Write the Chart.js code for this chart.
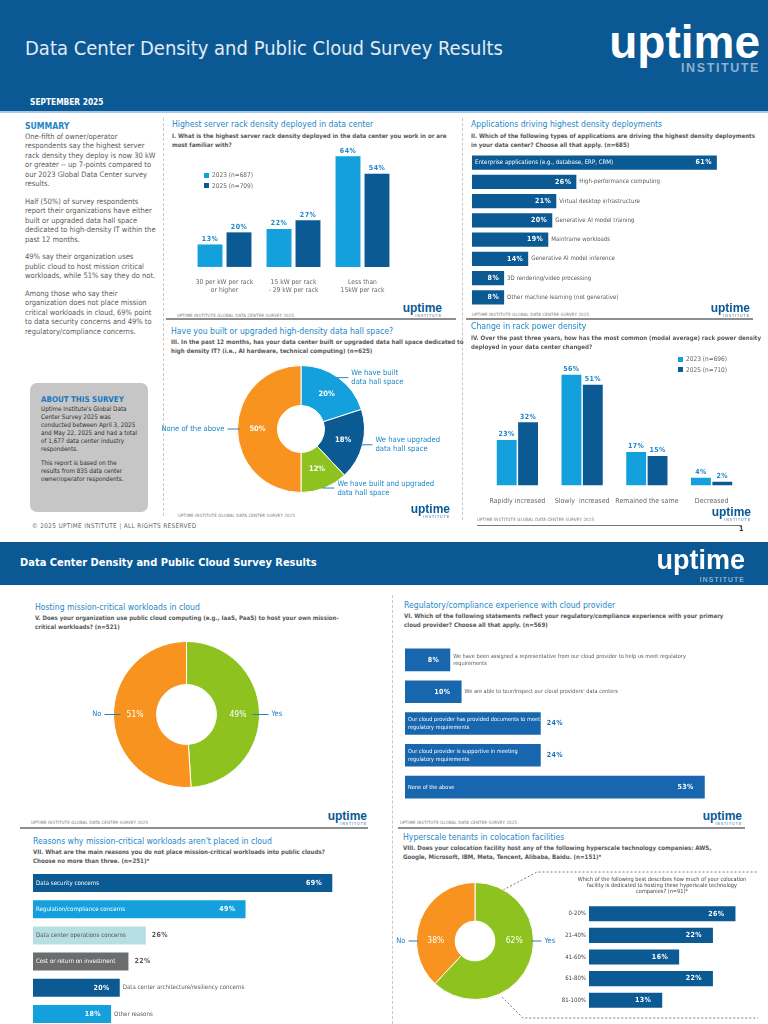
<!DOCTYPE html>
<html>
<head>
<meta charset="utf-8">
<title>Data Center Density and Public Cloud Survey Results</title>
<script src="https://cdn.jsdelivr.net/npm/chart.js"></script>
<style>
    body { margin: 0; background: #fff; }
    #page {
        position: relative; width: 768px; height: 1024px; overflow: hidden;
        font-family: "Liberation Sans Narrow", "Arial Narrow", "DejaVu Sans Condensed", sans-serif;
        color: #555;
    }
    .a { position: absolute; white-space: nowrap; }
    .band { left: 0; width: 768px; background: #0b5994; }
    .ttl { font-size: 8.6px; line-height: 11px; color: #1d87c8; }
    .q { font-size: 6.1px; line-height: 9px; font-weight: bold; color: #585858; }
    .foot { font-size: 4.4px; letter-spacing: 0.15px; color: #777; }
    .slogo { font-family: "Liberation Sans", Arial, sans-serif; font-weight: bold; font-size: 12px; line-height: 12px; color: #0b5994; }
    .sinst { font-family: "Liberation Sans", Arial, sans-serif; font-weight: bold; font-size: 3.6px; letter-spacing: 0.9px; color: #7c9fc4; }
    .vdiv { width: 0; border-left: 1px dashed #c8c8c8; }
    .hdiv { height: 0; border-top: 2px solid #8e8e8e; }
    .legend { font-size: 6.5px; color: #666; }
    .legend span { display: inline-block; width: 5px; height: 5px; margin-right: 3px; vertical-align: -0.5px; }
    .legend div { height: 10.5px; line-height: 10.5px; }
    #summary { left: 25px; top: 121px; font-size: 7.5px; line-height: 9.5px; color: #5a5a5a; }
    #summary h3 { margin: 0 0 0.5px; font-size: 8.6px; line-height: 10px; color: #1d87c8; }
    #summary p { margin: 0 0 8px; }
    #about { left: 30px; top: 383px; width: 107px; height: 118px; padding: 11px 0 0 11px;
             background: #c6c6c6; border-radius: 7px; }
    #about h3 { margin: 0; font-size: 7.9px; line-height: 11px; color: #1577c0; }
    #about p { margin: 0 0 7px; font-size: 6.3px; line-height: 7.9px; color: #2e2e2e; }
</style>
</head>
<body>
<div id="page">
    <!-- page 1 header -->
    <div class="a band" style="top:0;height:111px;border-bottom:2px solid #a9c8e4"></div>
    <div class="a" style="left:25px;top:35px;font-size:20px;line-height:26px;color:#e3eaf2">Data Center Density and Public Cloud Survey Results</div>
    <div class="a" style="right:8px;top:19px;font-family:'Liberation Sans',Arial,sans-serif;font-weight:bold;font-size:46px;line-height:46px;color:#fff">uptime</div>
    <div class="a" style="right:8px;top:62px;font-family:'Liberation Sans',Arial,sans-serif;font-weight:bold;font-size:12.5px;line-height:13px;letter-spacing:1.6px;color:#8db0d2">INSTITUTE</div>
    <div class="a" style="left:30px;top:96px;font-size:8.3px;line-height:12px;font-weight:bold;color:#fff">SEPTEMBER 2025</div>

    <!-- left column -->
    <div id="summary" class="a">
        <h3>SUMMARY</h3>
        <p>One-fifth of owner/operator<br>respondents say the highest server<br>rack density they deploy is now 30 kW<br>or greater -- up 7-points compared to<br>our 2023 Global Data Center survey<br>results.</p>
        <p>Half (50%) of survey respondents<br>report their organizations have either<br>built or upgraded data hall space<br>dedicated to high-density IT within the<br>past 12 months.</p>
        <p>49% say their organization uses<br>public cloud to host mission critical<br>workloads, while 51% say they do not.</p>
        <p>Among those who say their<br>organization does not place mission<br>critical workloads in cloud, 69% point<br>to data security concerns and 49% to<br>regulatory/compliance concerns.</p>
    </div>
    <div id="about" class="a">
        <h3>ABOUT THIS SURVEY</h3>
        <p>Uptime Institute's Global Data<br>Center Survey 2025 was<br>conducted between April 3, 2025<br>and May 22, 2025 and had a total<br>of 1,677 data center industry<br>respondents.</p>
        <p>This report is based on the<br>results from 835 data center<br>owner/operator respondents.</p>
    </div>
    <div class="a" style="left:32px;top:522px;font-size:6.4px;letter-spacing:0.35px;color:#666">© 2025 UPTIME INSTITUTE | ALL RIGHTS RESERVED</div>
    <div class="a" style="left:739px;top:525px;font-size:7px;font-weight:bold;color:#333">1</div>

    <!-- page 1 dividers -->
    <div class="a vdiv" style="left:163px;top:118px;height:398px"></div>
    <div class="a vdiv" style="left:462px;top:118px;height:402px"></div>
    <div class="a hdiv" style="left:166px;top:318px;width:290px"></div>
    <div class="a hdiv" style="left:466px;top:318px;width:287px"></div>
    <div class="a" style="left:477px;top:525px;width:265px;border-top:1px solid #777"></div>

    <!-- I -->
    <div class="a ttl" style="left:172px;top:118.5px">Highest server rack density deployed in data center</div>
    <div class="a q" style="left:172px;top:130.5px">I. What is the highest server rack density deployed in the data center you work in or are<br>most familiar with?</div>
    <canvas id="rackChart" class="a" width="207" height="151" style="left:190px;top:146px"></canvas>
    <div id="rackLegend" class="a legend" style="left:204px;top:170px"></div>
    <div class="a foot" style="left:177px;top:312.5px">UPTIME INSTITUTE GLOBAL DATA CENTER SURVEY 2025</div>
    <div class="a slogo" style="right:326px;top:302px">uptime</div>
    <div class="a sinst" style="right:326px;top:313.5px">INSTITUTE</div>

    <!-- II -->
    <div class="a ttl" style="left:471px;top:118.5px">Applications driving highest density deployments</div>
    <div class="a q" style="left:471px;top:130.5px">II. Which of the following types of applications are driving the highest density deployments<br>in your data center? Choose all that apply. (n=685)</div>
    <canvas id="appChart" class="a" width="285" height="154" style="left:472px;top:153px"></canvas>
    <div class="a foot" style="left:472px;top:311.5px">UPTIME INSTITUTE GLOBAL DATA CENTER SURVEY 2025</div>
    <div class="a slogo" style="right:18px;top:302px">uptime</div>
    <div class="a sinst" style="right:18px;top:313.5px">INSTITUTE</div>

    <!-- III -->
    <div class="a ttl" style="left:171px;top:325.5px">Have you built or upgraded high-density data hall space?</div>
    <div class="a q" style="left:171px;top:336.5px">III. In the past 12 months, has your data center built or upgraded data hall space dedicated to<br>high density IT? (i.e., AI hardware, technical computing) (n=625)</div>
    <canvas id="hallChart" class="a" width="305" height="150" style="left:160px;top:355px"></canvas>
    <div class="a foot" style="left:178px;top:512.5px">UPTIME INSTITUTE GLOBAL DATA CENTER SURVEY 2025</div>
    <div class="a slogo" style="right:318px;top:503px">uptime</div>
    <div class="a sinst" style="right:318px;top:514.5px">INSTITUTE</div>

    <!-- IV -->
    <div class="a ttl" style="left:471px;top:320.5px">Change in rack power density</div>
    <div class="a q" style="left:471px;top:332.5px">IV. Over the past three years, how has the most common (modal average) rack power density<br>deployed in your data center changed?</div>
    <canvas id="changeChart" class="a" width="259" height="145" style="left:485px;top:363px"></canvas>
    <div id="changeLegend" class="a legend" style="left:678px;top:354px"></div>
    <div class="a foot" style="left:477px;top:516.5px">UPTIME INSTITUTE GLOBAL DATA CENTER SURVEY 2025</div>
    <div class="a slogo" style="right:17px;top:506px">uptime</div>
    <div class="a sinst" style="right:17px;top:517.5px">INSTITUTE</div>

    <!-- page 2 header -->
    <div class="a band" style="top:542px;height:43px"></div>
    <div class="a" style="left:20px;top:555px;font-size:11px;line-height:15px;font-weight:bold;color:#fff">Data Center Density and Public Cloud Survey Results</div>
    <div class="a" style="right:23px;top:547px;font-family:'Liberation Sans',Arial,sans-serif;font-weight:bold;font-size:27px;line-height:27px;color:#fff">uptime</div>
    <div class="a" style="right:23px;top:576px;font-family:'Liberation Sans',Arial,sans-serif;font-weight:bold;font-size:7px;line-height:7px;letter-spacing:1px;color:#8db0d2">INSTITUTE</div>

    <!-- page 2 dividers -->
    <div class="a vdiv" style="left:392px;top:595px;height:429px"></div>
    <div class="a hdiv" style="left:20px;top:827px;width:348px"></div>
    <div class="a hdiv" style="left:398px;top:827px;width:347px"></div>

    <!-- V -->
    <div class="a ttl" style="left:35px;top:601.5px">Hosting mission-critical workloads in cloud</div>
    <div class="a q" style="left:35px;top:612.5px">V. Does your organization use public cloud computing (e.g., IaaS, PaaS) to host your own mission-<br>critical workloads? (n=521)</div>
    <canvas id="cloudChart" class="a" width="300" height="170" style="left:40px;top:630px"></canvas>
    <div class="a foot" style="left:31px;top:819.5px">UPTIME INSTITUTE GLOBAL DATA CENTER SURVEY 2025</div>
    <div class="a slogo" style="right:401px;top:810px">uptime</div>
    <div class="a sinst" style="right:401px;top:821.5px">INSTITUTE</div>

    <!-- VI -->
    <div class="a ttl" style="left:404px;top:599.5px">Regulatory/compliance experience with cloud provider</div>
    <div class="a q" style="left:404px;top:610.5px">VI. Which of the following statements reflect your regulatory/compliance experience with your primary<br>cloud provider? Choose all that apply. (n=569)</div>
    <canvas id="regChart" class="a" width="345" height="159" style="left:405px;top:644px"></canvas>
    <div class="a foot" style="left:400px;top:819.5px">UPTIME INSTITUTE GLOBAL DATA CENTER SURVEY 2025</div>
    <div class="a slogo" style="right:26px;top:810px">uptime</div>
    <div class="a sinst" style="right:26px;top:821.5px">INSTITUTE</div>

    <!-- VII -->
    <div class="a ttl" style="left:33px;top:835.5px">Reasons why mission-critical workloads aren't placed in cloud</div>
    <div class="a q" style="left:33px;top:846.5px">VII. What are the main reasons you do not place mission-critical workloads into public clouds?<br>Choose no more than three. (n=251)*</div>
    <canvas id="reasonChart" class="a" width="347" height="157" style="left:33px;top:870px"></canvas>

    <!-- VIII -->
    <div class="a ttl" style="left:403px;top:831.5px">Hyperscale tenants in colocation facilities</div>
    <div class="a q" style="left:403px;top:842.5px">VIII. Does your colocation facility host any of the following hyperscale technology companies: AWS,<br>Google, Microsoft, IBM, Meta, Tencent, Alibaba, Baidu. (n=151)*</div>
    <svg class="a" style="left:0;top:0" width="768" height="1024">
        <polyline points="503,890 537,872 758,872" fill="none" stroke="#777" stroke-width="1" stroke-dasharray="2,2"/>
        <polyline points="502,997 523,1018 758,1018" fill="none" stroke="#777" stroke-width="1" stroke-dasharray="2,2"/>
    </svg>
    <div class="a" style="left:562px;top:876px;width:200px;text-align:center;font-size:5.6px;line-height:6.2px;color:#444">Which of the following best describes how much of your colocation<br>facility is dedicated to hosting these hyperscale technology<br>companies? (n=91)*</div>
    <canvas id="hyperChart" class="a" width="175" height="140" style="left:385px;top:872px"></canvas>
    <canvas id="shareChart" class="a" width="214" height="108" style="left:544px;top:903px"></canvas>
</div>

<script>
    // ---- data ----
    // I. highest rack density
    var rackCats = [['30 per kW per rack', 'or higher'], ['15 kW per rack', '- 29 kW per rack'], ['Less than', '15kW per rack']];
    var rackSeries = ['2023 (n=687)', '2025 (n=709)'];
    var rack2023 = [13, 22, 64];
    var rack2025 = [20, 27, 54];

    // II. applications
    var appCats = ['Enterprise applications (e.g., database, ERP, CRM)', 'High-performance computing',
        'Virtual desktop infrastructure', 'Generative AI model training', 'Mainframe workloads',
        'Generative AI model inference', '3D rendering/video processing', 'Other machine learning (not generative)'];
    var appValues = [61, 26, 21, 20, 19, 14, 8, 8];

    // III. data hall space
    var hallCats = [['We have built', 'data hall space'], ['We have upgraded', 'data hall space'],
        ['We have built and upgraded', 'data hall space'], ['None of the above']];
    var hallValues = [20, 18, 12, 50];

    // IV. rack power density change
    var changeCats = ['Rapidly increased', 'Slowly  increased', 'Remained the same', 'Decreased'];
    var changeSeries = ['2023 (n=696)', '2025 (n=710)'];
    var change2023 = [23, 56, 17, 4];
    var change2025 = [32, 51, 15, 2];

    // V. mission-critical in cloud
    var cloudCats = ['Yes', 'No'];
    var cloudValues = [49, 51];

    // VI. regulatory experience
    var regCats = [
        ['We have been assigned a representative from our cloud provider to help us meet regulatory', 'requirements'],
        "We are able to tour/inspect our cloud providers' data centers",
        ['Our cloud provider has provided documents to meet', 'regulatory requirements'],
        ['Our cloud provider is supportive in meeting', 'regulatory requirements'],
        'None of the above'];
    var regValues = [8, 10, 24, 24, 53];

    // VII. reasons not in cloud
    var reasonCats = ['Data security concerns', 'Regulation/compliance concerns', 'Data center operations concerns',
        'Cost or return on investment', 'Data center architecture/resiliency concerns', 'Other reasons'];
    var reasonValues = [69, 49, 26, 22, 20, 18];

    // VIII. hyperscale tenants
    var hyperCats = ['Yes', 'No'];
    var hyperValues = [62, 38];
    var shareCats = ['0-20%', '21-40%', '41-60%', '61-80%', '81-100%'];
    var shareValues = [26, 22, 16, 22, 13];

    // ---- styling ----
    var FONT = '"Liberation Sans Narrow", "Arial Narrow", "DejaVu Sans Condensed", sans-serif';
    var LIGHT = '#13a0dc', DARK = '#0b5a94', MID = '#1766ae', GREEN = '#8dc21f', ORANGE = '#f7931e';
    var TEAL = '#b6dfe3', GREY = '#6b6c6e';
    var TXT_BLUE = '#1d87c8', TXT_GREY = '#5a5a5a';

    Chart.defaults.font.family = FONT;
    Chart.defaults.animation = false;
    Chart.defaults.responsive = false;
    Chart.defaults.plugins.legend.display = false;
    Chart.defaults.plugins.tooltip.enabled = false;

    function isLight(hex) {
        var n = parseInt(hex.slice(1), 16);
        var r = n >> 16, g = (n >> 8) & 255, b = n & 255;
        return (0.299 * r + 0.587 * g + 0.114 * b) / 255 > 0.7;
    }

    // multi-line text centred vertically on y
    function drawLines(ctx, lines, x, y, lh) {
        lines = Array.isArray(lines) ? lines : [lines];
        var top = y - (lines.length - 1) * lh / 2;
        lines.forEach(function (line, k) { ctx.fillText(line, x, top + k * lh); });
    }

    // value labels above grouped columns
    var columnValues = {
        id: 'columnValues',
        afterDatasetsDraw: function (chart) {
            var ctx = chart.ctx;
            ctx.save();
            ctx.font = 'bold 7px ' + FONT;
            ctx.letterSpacing = '0.4px';
            ctx.fillStyle = TXT_BLUE;
            ctx.textAlign = 'center';
            ctx.textBaseline = 'bottom';
            chart.data.datasets.forEach(function (ds, di) {
                chart.getDatasetMeta(di).data.forEach(function (bar, i) {
                    ctx.fillText(ds.data[i] + '%', bar.x, bar.y - 2);
                });
            });
            ctx.restore();
        }
    };

    // labels and values for horizontal bars
    // modes: 'in' label inside + value inside, 'out' value inside + label after bar,
    //        'in-out' label inside + value after bar, 'axis' label left of axis + value inside
    var rowText = {
        id: 'rowText',
        afterDatasetsDraw: function (chart, args, opts) {
            var ctx = chart.ctx;
            var ds = chart.data.datasets[0];
            ctx.save();
            ctx.textBaseline = 'middle';
            chart.getDatasetMeta(0).data.forEach(function (bar, i) {
                var mode = opts.modes[i];
                var label = chart.data.labels[i];
                var value = ds.data[i] + '%';
                var fill = Array.isArray(ds.backgroundColor) ? ds.backgroundColor[i] : ds.backgroundColor;
                var inner = isLight(fill) ? '#555' : '#fff';

                ctx.letterSpacing = '0px';
                ctx.font = opts.size + 'px ' + FONT;
                if (mode === 'in' || mode === 'in-out') {
                    ctx.fillStyle = inner;
                    ctx.textAlign = 'left';
                    drawLines(ctx, label, bar.base + 3, bar.y, opts.lineHeight);
                } else if (mode === 'out') {
                    ctx.fillStyle = TXT_GREY;
                    ctx.textAlign = 'left';
                    drawLines(ctx, label, bar.x + 3, bar.y, opts.lineHeight);
                } else {
                    ctx.fillStyle = '#444';
                    ctx.textAlign = 'right';
                    drawLines(ctx, label, bar.base - 3, bar.y, opts.lineHeight);
                }

                ctx.font = 'bold ' + opts.valueSize + 'px ' + FONT;
                ctx.letterSpacing = '0.4px';
                if (mode === 'in-out') {
                    ctx.fillStyle = opts.valueColor;
                    ctx.textAlign = 'left';
                    ctx.fillText(value, bar.x + 6, bar.y);
                } else {
                    ctx.fillStyle = inner;
                    ctx.textAlign = 'right';
                    ctx.fillText(value, bar.x - opts.inset, bar.y);
                }
            });
            ctx.restore();
        }
    };

    // slice values and leader-line labels for doughnuts
    var ringText = {
        id: 'ringText',
        afterDatasetsDraw: function (chart, args, opts) {
            var ctx = chart.ctx;
            var ds = chart.data.datasets[0];
            ctx.save();
            ctx.textBaseline = 'middle';
            chart.getDatasetMeta(0).data.forEach(function (arc, i) {
                var p = arc.getProps(['x', 'y', 'startAngle', 'endAngle', 'innerRadius', 'outerRadius'], true);
                var mid = (p.startAngle + p.endAngle) / 2;
                var midR = (p.innerRadius + p.outerRadius) / 2;
                var dir = Math.cos(mid) >= 0 ? 1 : -1;
                var vx, vy, ax, ay;
                if (opts.side) {
                    vx = p.x + dir * midR; vy = p.y;
                    ax = p.x + dir * p.outerRadius; ay = p.y;
                } else {
                    vx = p.x + Math.cos(mid) * midR; vy = p.y + Math.sin(mid) * midR;
                    ax = p.x + Math.cos(mid) * p.outerRadius; ay = p.y + Math.sin(mid) * p.outerRadius;
                }
                ctx.font = opts.valueWeight + ' ' + opts.valueSize + 'px ' + FONT;
                ctx.fillStyle = '#fff';
                ctx.textAlign = 'center';
                ctx.fillText(ds.data[i] + '%', vx, vy);

                ctx.strokeStyle = opts.color;
                ctx.lineWidth = 1;
                ctx.beginPath();
                ctx.moveTo(ax - dir * opts.lineIn, ay);
                ctx.lineTo(ax + dir * opts.lineOut, ay);
                ctx.stroke();

                ctx.font = opts.size + 'px ' + FONT;
                ctx.fillStyle = opts.color;
                ctx.textAlign = dir > 0 ? 'left' : 'right';
                drawLines(ctx, chart.data.labels[i], ax + dir * (opts.lineOut + 3), ay, opts.lineHeight);
            });
            ctx.restore();
        }
    };

    function makeLegend(id, names) {
        var colors = [LIGHT, DARK];
        document.getElementById(id).innerHTML = names.map(function (n, i) {
            return '<div><span style="background:' + colors[i] + '"></span>' + n + '</div>';
        }).join('');
    }

    function columnChart(id, labels, names, a, b, max, catPct, barPct, tickSize) {
        return new Chart(document.getElementById(id), {
            type: 'bar',
            data: {
                labels: labels,
                datasets: [
                    { label: names[0], data: a, backgroundColor: LIGHT, categoryPercentage: catPct, barPercentage: barPct },
                    { label: names[1], data: b, backgroundColor: DARK, categoryPercentage: catPct, barPercentage: barPct }
                ]
            },
            options: {
                scales: {
                    x: {
                        grid: { display: false },
                        border: { display: false },
                        ticks: { color: '#666', font: { size: tickSize }, padding: 3, maxRotation: 0, autoSkip: false }
                    },
                    y: { display: false, min: 0, max: max }
                }
            },
            plugins: [columnValues]
        });
    }

    function rowChart(id, labels, values, colors, max, padLeft, thick, text) {
        return new Chart(document.getElementById(id), {
            type: 'bar',
            data: {
                labels: labels,
                datasets: [{ data: values, backgroundColor: colors, categoryPercentage: 1, barPercentage: thick }]
            },
            options: {
                indexAxis: 'y',
                layout: { padding: { left: padLeft } },
                scales: { x: { display: false, min: 0, max: max }, y: { display: false } },
                plugins: { rowText: text }
            },
            plugins: [rowText]
        });
    }

    function ringChart(id, labels, values, colors, cutout, pad, text) {
        return new Chart(document.getElementById(id), {
            type: 'doughnut',
            data: {
                labels: labels,
                datasets: [{ data: values, backgroundColor: colors, borderColor: '#fff', borderWidth: 1 }]
            },
            options: {
                cutout: cutout,
                layout: { padding: pad },
                plugins: { ringText: text }
            },
            plugins: [ringText]
        });
    }

    // I
    makeLegend('rackLegend', rackSeries);
    columnChart('rackChart', rackCats, rackSeries, rack2023, rack2025, 70, 0.84, 0.86, 6.7);

    // II
    rowChart('appChart', appCats, appValues, DARK, 71, 0, 0.73, {
        modes: ['in', 'out', 'out', 'out', 'out', 'out', 'out', 'out'],
        size: 6.1, valueSize: 7, lineHeight: 8, inset: 5, valueColor: TXT_BLUE
    });

    // III
    ringChart('hallChart', hallCats, hallValues, [LIGHT, DARK, GREEN, ORANGE], '37%',
        { left: 77, top: 10, right: 100, bottom: 12 },
        { side: false, color: TXT_BLUE, size: 7.6, lineHeight: 9, lineIn: 2, lineOut: 10, valueSize: 7.5, valueWeight: 'bold' });

    // IV
    makeLegend('changeLegend', changeSeries);
    columnChart('changeChart', changeCats, changeSeries, change2023, change2025, 62, 0.66, 0.93, 7);

    // V
    ringChart('cloudChart', cloudCats, cloudValues, [GREEN, ORANGE], '41%',
        { left: 73, top: 11, right: 80, bottom: 12 },
        { side: true, color: '#2a7fc0', size: 7.5, lineHeight: 9, lineIn: 7, lineOut: 9, valueSize: 8.5, valueWeight: 'normal' });

    // VI
    rowChart('regChart', regCats, regValues, MID, 61, 0, 0.71, {
        modes: ['out', 'out', 'in-out', 'in-out', 'in'],
        size: 5.6, valueSize: 7, lineHeight: 7.5, inset: 11, valueColor: '#1d6fb5'
    });

    // VII
    rowChart('reasonChart', reasonCats, reasonValues, [DARK, LIGHT, TEAL, GREY, DARK, LIGHT], 80, 0, 0.69, {
        modes: ['in', 'in', 'in-out', 'in-out', 'out', 'out'],
        size: 6.1, valueSize: 7, lineHeight: 8, inset: 10, valueColor: '#555'
    });

    // VIII
    ringChart('hyperChart', hyperCats, hyperValues, [GREEN, ORANGE], '34%',
        { left: 31, top: 10, right: 26, bottom: 12 },
        { side: true, color: '#2a7fc0', size: 7.5, lineHeight: 9, lineIn: 2, lineOut: 8, valueSize: 8.5, valueWeight: 'normal' });
    rowChart('shareChart', shareCats, shareValues, DARK, 30, 45, 0.70, {
        modes: ['axis', 'axis', 'axis', 'axis', 'axis'],
        size: 6, valueSize: 7, lineHeight: 8, inset: 11, valueColor: TXT_BLUE
    });
</script>
</body>
</html>
